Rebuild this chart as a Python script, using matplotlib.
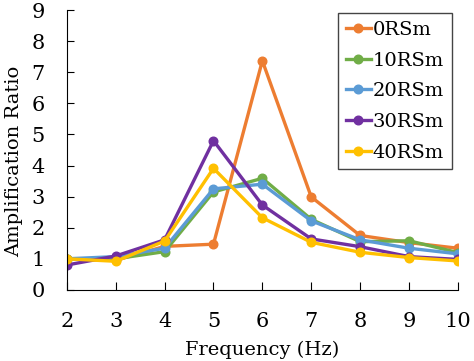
import matplotlib
matplotlib.use('Agg')
import matplotlib.pyplot as plt

# Data
freq = [2, 3, 4, 5, 6, 7, 8, 9, 10]
rs0 = [1.0, 0.95, 1.4, 1.47, 7.37, 2.99, 1.75, 1.52, 1.34]
rs10 = [1.0, 1.0, 1.23, 3.15, 3.59, 2.27, 1.55, 1.58, 1.2]
rs20 = [1.0, 1.07, 1.34, 3.25, 3.4, 2.22, 1.61, 1.34, 1.16]
rs30 = [0.8, 1.09, 1.61, 4.8, 2.73, 1.64, 1.39, 1.07, 0.98]
rs40 = [1.0, 0.92, 1.57, 3.91, 2.32, 1.53, 1.21, 1.04, 0.93]
labels = ['0RSm', '10RSm', '20RSm', '30RSm', '40RSm']
colors = ['#ED7D31', '#70AD47', '#5B9BD5', '#7030A0', '#FFC000']

plt.rcParams.update({
    'font.family': 'serif',
    'font.serif': ['DejaVu Serif', 'Liberation Serif'],
    'font.size': 14,
})

fig = plt.figure(figsize=(4.74, 3.61), dpi=100)
ax = fig.add_axes([0.141, 0.197, 0.825, 0.775])

for series, lab, col in zip([rs0, rs10, rs20, rs30, rs40], labels, colors):
    ax.plot(freq, series, '-o', color=col, lw=2.4, ms=6.2, label=lab)

ax.set_xlim(2, 10)
ax.set_ylim(0, 9)
ax.set_xticks(range(2, 11))
ax.set_yticks(range(0, 10))
ax.spines['top'].set_visible(False)
ax.spines['right'].set_visible(False)
ax.tick_params(axis='x', direction='in', length=6, pad=16, labelsize=15)
ax.tick_params(axis='y', direction='in', length=5, pad=16, labelsize=15)

ax.set_xlabel('Frequency (Hz)', fontsize=14, labelpad=7)
ax.set_ylabel('Amplification Ratio', fontsize=14)
ax.yaxis.set_label_coords(-0.113, 0.46)

leg = ax.legend(loc='upper right', fontsize=14, handlelength=1.3, handletextpad=0.1,
                borderpad=0.4, labelspacing=0.65, borderaxespad=0, fancybox=False,
                edgecolor='#444444', framealpha=1, bbox_to_anchor=(0.985, 0.989))
leg.get_frame().set_linewidth(1.0)

fig.savefig('out.png', dpi=100)
